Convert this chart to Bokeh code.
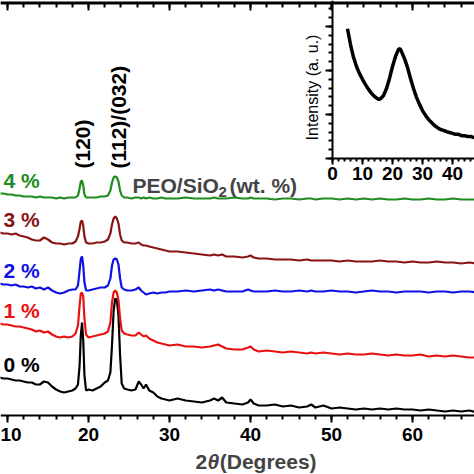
import numpy as np
from bokeh.plotting import figure
from bokeh.models import (Range1d, LinearAxis, SingleIntervalTicker, FixedTicker,
                          Label, GridBox, Span)
from bokeh.embed import file_html
from bokeh.resources import INLINE

# ---------------- data ----------------
two_theta = [9.0, 9.5, 10, 10.5, 11, 11.5, 12, 12.5, 13, 13.5,
             14, 14.5, 15, 15.5, 16, 16.5, 17, 17.5, 18, 18.4,
             18.7, 18.9, 19.05, 19.2, 19.35, 19.5, 19.7, 20, 20.5, 21,
             21.5, 22, 22.4, 22.7, 22.9, 23.1, 23.3, 23.5, 23.7, 23.9,
             24.1, 24.4, 24.8, 25.3, 25.8, 26.2, 26.5, 26.8, 27.1, 27.5,
             28, 28.5, 29, 29.5, 30, 31, 32, 33, 34, 35,
             35.5, 36, 36.5, 37, 38, 39, 39.7, 40, 40.4, 41,
             42, 43, 44, 45, 46, 47, 47.5, 48, 49, 50,
             51, 52, 53, 54, 55, 56, 57, 58, 59, 60,
             61, 62, 63, 64, 65, 66, 67, 68]

# stacked intensities (a. u.) as plotted
peo_0 = [38, 37, 37, 36, 35, 35, 34, 33, 33, 31,
         31, 34, 33, 29, 26, 24, 23, 24, 25, 27,
         31, 50, 80, 93, 75, 40, 25, 26, 25, 27,
         29, 33, 35, 43, 70, 105, 117, 115, 100, 60,
         32, 27, 26, 25, 26, 34, 31, 27, 31, 25,
         23, 19, 17, 16, 15, 17, 15, 14, 13, 15,
         17, 15, 18, 13, 12, 11, 13, 16, 12, 10,
         10, 11, 9, 10, 8, 9, 11, 8, 10, 7,
         8, 7, 6, 7, 6, 7, 6, 7, 6, 6,
         5, 6, 5, 4, 5, 4, 5, 3]
peo_1 = [92, 91, 91, 90, 89, 89, 88, 87, 86, 84,
         85, 83, 84, 81, 79, 78, 79, 78, 79, 82,
         90, 110, 122, 123, 119, 97, 81, 78, 79, 80,
         81, 82, 84, 93, 113, 123, 125, 123, 115, 97,
         85, 82, 81, 80, 80, 83, 81, 79, 80, 77,
         75, 73, 72, 71, 70, 71, 69, 69, 68, 69,
         70, 71, 69, 67, 66, 66, 68, 69, 66, 64,
         65, 64, 63, 64, 63, 62, 63, 62, 63, 62,
         61, 62, 61, 61, 62, 61, 60, 61, 60, 60,
         61, 59, 60, 59, 60, 59, 58, 58]
peo_2 = [132, 131, 131, 130, 131, 129, 129, 128, 129, 127,
         128, 126, 128, 125, 123, 122, 123, 125, 126, 126,
         130, 145, 157, 159, 150, 133, 125, 125, 126, 127,
         128, 128, 130, 137, 150, 156, 157, 156, 151, 137,
         128, 126, 125, 125, 126, 128, 125, 123, 121, 122,
         123, 122, 123, 123, 124, 124, 125, 124, 125, 126,
         125, 126, 125, 124, 124, 124, 126, 125, 124, 124,
         124, 125, 124, 124, 125, 124, 125, 124, 124, 125,
         124, 124, 123, 124, 125, 124, 124, 123, 124, 124,
         124, 123, 124, 124, 123, 124, 124, 123]
peo_3 = [183, 182, 182, 181, 182, 180, 179, 178, 176, 175,
         175, 178, 176, 173, 172, 172, 171, 172, 172, 174,
         179, 187, 194, 195, 190, 179, 173, 172, 172, 173,
         173, 174, 176, 182, 191, 197, 199, 197, 192, 181,
         175, 173, 173, 172, 172, 173, 171, 170, 170, 169,
         168, 167, 166, 165, 164, 164, 163, 162, 161, 160,
         161, 160, 161, 159, 159, 158, 159, 160, 158, 157,
         157, 156, 156, 156, 155, 156, 155, 155, 155, 155,
         154, 155, 154, 154, 154, 155, 154, 154, 153, 154,
         153, 153, 154, 153, 153, 152, 153, 152]
peo_4 = [222, 222, 221, 221, 220, 220, 219, 219, 219, 218,
         219, 218, 218, 218, 217, 218, 217, 218, 218, 218,
         220, 227, 234, 235, 230, 221, 218, 218, 218, 218,
         219, 219, 220, 225, 233, 238, 239, 238, 234, 225,
         220, 218, 218, 217, 218, 218, 217, 218, 217, 218,
         217, 217, 218, 217, 217, 217, 218, 217, 217, 217,
         218, 217, 217, 217, 218, 217, 217, 218, 217, 217,
         217, 216, 217, 217, 216, 217, 217, 216, 217, 217,
         216, 217, 216, 217, 216, 217, 216, 216, 217, 216,
         216, 217, 216, 216, 217, 216, 216, 216]

sample_labels = ["0 %", "1 %", "2 %", "3 %", "4 %"]
series = [peo_0, peo_1, peo_2, peo_3, peo_4]
series_colors = ["#000000", "#e81010", "#1010e6", "#8a1414", "#208c20"]

peak_positions = [19.26, 23.7]
peak_labels = ["(120)", "(112)/(032)"]

# inset: pure SiO2
inset_2theta = [5, 6, 7, 8, 9, 10, 11, 12, 13, 14, 15, 15.5, 16, 17, 18, 19, 20,
                21, 22, 22.5, 23, 24, 25, 26, 27, 28, 29, 30, 31, 32, 33, 34, 35,
                36, 37, 38, 39, 40, 41, 42, 43, 44, 45, 46, 47, 48]
inset_int = [2.95, 2.59, 2.30, 2.09, 1.93, 1.80, 1.68, 1.57, 1.48, 1.41, 1.36, 1.34,
             1.36, 1.43, 1.59, 1.82, 2.09, 2.32, 2.48, 2.50, 2.43, 2.27, 2.07, 1.82,
             1.59, 1.39, 1.23, 1.09, 0.98, 0.89, 0.82, 0.75, 0.70, 0.66, 0.64, 0.61,
             0.59, 0.57, 0.55, 0.55, 0.52, 0.52, 0.50, 0.50, 0.48, 0.48]

FONT = "Liberation Sans"

# ---------------- main plot (frame covers the whole window) ----------------
p = figure(width=474, height=474, x_range=Range1d(9.136, 67.65), y_range=Range1d(-59, 415),
           output_backend="svg", toolbar_location=None,
           x_axis_location=None, y_axis_location=None,
           min_border_left=0, min_border_right=0, min_border_top=0, min_border_bottom=0,
           outline_line_color=None, background_fill_color="white", border_fill_color="white")
p.xgrid.grid_line_color = None
p.ygrid.grid_line_color = None

xb = LinearAxis(ticker=SingleIntervalTicker(interval=10, num_minor_ticks=5),
                fixed_location=0,
                axis_line_width=2, major_tick_line_width=2, minor_tick_line_width=2,
                major_tick_in=0, major_tick_out=7, minor_tick_in=0, minor_tick_out=4,
                major_label_text_font=FONT, major_label_text_font_style="bold",
                major_label_text_font_size="19px", major_label_text_color="black",
                major_label_standoff=5)
p.add_layout(xb, "below")

# top frame edge: a line with ticks hanging down from it, no labels
p.add_layout(Span(location=413, dimension="width", line_color="black", line_width=2))
xt = LinearAxis(ticker=SingleIntervalTicker(interval=10, num_minor_ticks=5),
                fixed_location=412.5,
                axis_line_width=2, major_tick_line_width=2, minor_tick_line_width=2,
                major_tick_in=0, major_tick_out=7, minor_tick_in=0, minor_tick_out=4,
                major_label_text_font_size="0px", major_label_text_color=None,
                major_label_standoff=0)
p.add_layout(xt, "below")

for vals, col, lab in zip(series, series_colors, sample_labels):
    p.line(two_theta, vals, line_color=col, line_width=2.2)
    p.add_layout(Label(x=9.51, y=vals[0] + 13, text=lab, text_color=col,
                       text_font=FONT, text_font_style="bold", text_font_size="21px",
                       text_baseline="middle"))

for xpk, lab in zip(peak_positions, peak_labels):
    p.add_layout(Label(x=xpk, y=247, text=lab, angle=np.pi / 2, text_align="left",
                       text_baseline="middle", text_font=FONT, text_font_style="bold",
                       text_font_size="21px", text_color="black"))

# PEO/SiO2 (wt. %)
p.add_layout(Label(x=25.43, y=230, text="PEO/SiO", text_font=FONT, text_font_style="bold",
                   text_font_size="21px", text_baseline="middle"))
p.add_layout(Label(x=36.05, y=224, text="2", text_font=FONT, text_font_style="bold",
                   text_font_size="15px", text_baseline="middle"))
p.add_layout(Label(x=37.4, y=230, text="(wt. %)", text_font=FONT, text_font_style="bold",
                   text_font_size="21px", text_baseline="middle"))

# axis title 2θ(Degrees)
p.add_layout(Label(x=33.2, y=-46, text="2", text_font=FONT, text_font_style="bold",
                   text_font_size="21px", text_baseline="middle"))
p.add_layout(Label(x=34.7, y=-46, text="θ", text_font=FONT, text_font_style="bold italic",
                   text_font_size="21px", text_baseline="middle"))
p.add_layout(Label(x=36.2, y=-46, text="(Degrees)", text_font=FONT, text_font_style="bold",
                   text_font_size="21px", text_baseline="middle"))

# ---------------- inset (frame covers its whole canvas) ----------------
ins = figure(width=178, height=190, x_range=Range1d(-12, 47.33), y_range=Range1d(-0.727, 3.591),
             output_backend="svg", toolbar_location=None,
             x_axis_location=None, y_axis_location=None,
             min_border_left=0, min_border_right=0, min_border_top=0, min_border_bottom=0,
             outline_line_color=None, background_fill_alpha=0, border_fill_alpha=0)
ins.xgrid.grid_line_color = None
ins.ygrid.grid_line_color = None
ins.margin = (0, 0, 0, 296)

iy = LinearAxis(ticker=FixedTicker(ticks=[0, 1, 2, 3],
                                   minor_ticks=[v / 5 for v in range(0, 18)]),
                fixed_location=0, bounds=(0, 3.591),
                axis_line_width=2, major_tick_line_width=2, minor_tick_line_width=2,
                major_tick_in=0, major_tick_out=7, minor_tick_in=0, minor_tick_out=4,
                major_label_text_font_size="0px", major_label_text_color=None,
                major_label_standoff=0)
ins.add_layout(iy, "left")
ix = LinearAxis(ticker=FixedTicker(ticks=[0, 10, 20, 30, 40],
                                   minor_ticks=list(range(0, 48, 2))),
                fixed_location=0, bounds=(0, 47.33),
                axis_line_width=2, major_tick_line_width=2, minor_tick_line_width=2,
                major_tick_in=0, major_tick_out=6, minor_tick_in=0, minor_tick_out=3,
                major_label_text_font=FONT, major_label_text_font_style="bold",
                major_label_text_font_size="19px", major_label_text_color="black",
                major_label_standoff=2)
ins.add_layout(ix, "below")
ins.add_layout(Label(x=-6.83, y=1.614, text="Intensity (a. u.)", angle=np.pi / 2,
                     text_align="center", text_baseline="middle", text_font=FONT,
                     text_font_size="16px", text_color="black"))
ins.line(inset_2theta, inset_int, line_color="black", line_width=3.5)

grid = GridBox(children=[(p, 0, 0), (ins, 0, 0)])
open("out.html", "w").write(file_html(grid, INLINE))
